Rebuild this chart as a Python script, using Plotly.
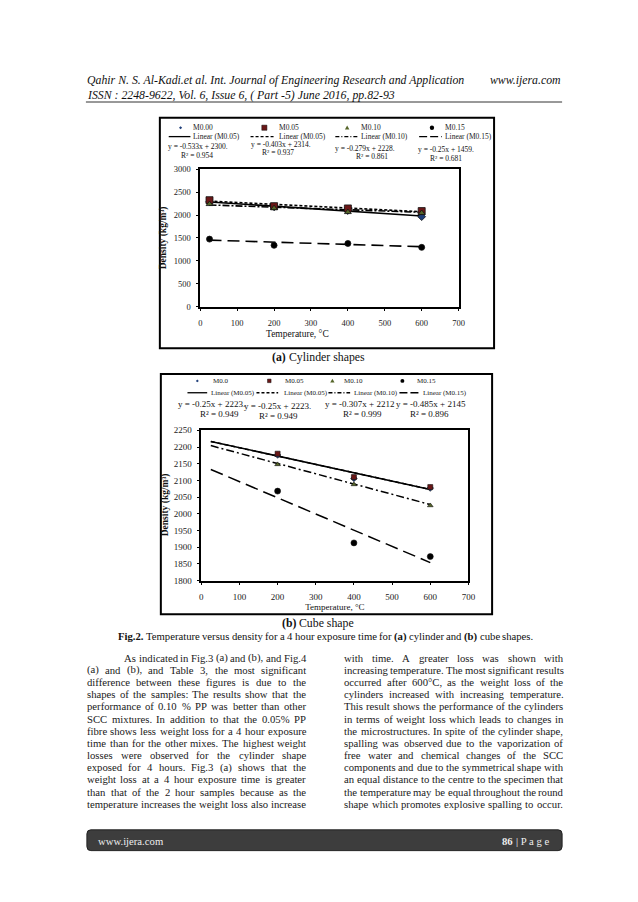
import plotly.graph_objects as go

W, H = 638, 902
SERIF = "Liberation Serif, Times New Roman, serif"


def X(px):
    return px / W


def Y(py):
    return 1 - py / H


# ---------------- data: (a) cylinder shapes ----------------
temps_a = [25, 200, 400, 600]
a_m000 = [2290, 2180, 2100, 1965]
a_m005 = [2325, 2195, 2145, 2087]
a_m010 = [2240, 2150, 2065, 2045]
a_m015 = [1475, 1340, 1380, 1295]
a_names = ["M0.00", "M0.05", "M0.10", "M0.15"]
a_trend_names = ["Linear (M0.05)", "Linear (M0.05)", "Linear (M0.10)", "Linear (M0.15)"]
a_slopes = [-0.533, -0.403, -0.279, -0.25]
a_intercepts = [2300, 2314, 2228, 1459]
a_eq_labels = ["y = -0.533x + 2300.", "y = -0.403x + 2314.", "y = -0.279x + 2228.", "y = -0.25x + 1459."]
a_r2_labels = ["R² = 0.954", "R² = 0.937", "R² = 0.861", "R² = 0.681"]
a_xticks = [0, 100, 200, 300, 400, 500, 600, 700]
a_yticks = [0, 500, 1000, 1500, 2000, 2500, 3000]

# ---------------- data: (b) cube shape ----------------
temps_b = [200, 400, 600]
b_m00 = [2176, 2106, 2077]
b_m005 = [2180, 2110, 2080]
b_m010 = [2148, 2088, 2025]
b_m015 = [2068, 1913, 1872]
b_names = ["M0.0", "M0.05", "M0.10", "M0.15"]
b_trend_names = ["Linear (M0.05)", "Linear (M0.05)", "Linear (M0.10)", "Linear (M0.15)"]
b_slopes = [-0.25, -0.25, -0.307, -0.485]
b_intercepts = [2223, 2223, 2212, 2145]
b_eq_labels = ["y = -0.25x + 2223.", "y = -0.25x + 2223.", "y = -0.307x + 2212", "y = -0.485x + 2145"]
b_r2_labels = ["R² = 0.949", "R² = 0.949", "R² = 0.999", "R² = 0.896"]
b_xticks = [0, 100, 200, 300, 400, 500, 600, 700]
b_yticks = [1800, 1850, 1900, 1950, 2000, 2050, 2100, 2150, 2200, 2250]

trend_x = [25, 600]

x_title = "Temperature, °C"
y_title = "Density (kg/m³)"

# ---------------- page text ----------------
header1 = "Qahir N. S. Al-Kadi.et al. Int. Journal of Engineering Research and Application"
header_site = "www.ijera.com"
header2 = "ISSN : 2248-9622, Vol. 6, Issue 6, ( Part -5) June 2016, pp.82-93"
caption_words = ("Fig.2. Temperature versus density for a 4 hour exposure time for "
                 "(a) cylinder and (b) cube shapes.").split(" ")
caption_bold = {"Fig.2.", "(a)", "(b)"}
left_col = [
    "As indicated in Fig.3 (a) and (b), and Fig.4",
    "(a) and (b), and Table 3, the most significant",
    "difference between these figures is due to the",
    "shapes of the samples: The results show that the",
    "performance of 0.10 % PP was better than other",
    "SCC mixtures. In addition to that the 0.05% PP",
    "fibre shows less weight loss for a 4 hour exposure",
    "time than for the other mixes. The highest weight",
    "losses were observed for the cylinder shape",
    "exposed for 4 hours. Fig.3 (a) shows that the",
    "weight loss at a 4 hour exposure time is greater",
    "than that of the 2 hour samples because as the",
    "temperature increases the weight loss also increase",
]
right_col = [
    "with time. A greater loss was shown with",
    "increasing temperature. The most significant results",
    "occurred after 600°C, as the weight loss of the",
    "cylinders increased with increasing temperature.",
    "This result shows the performance of the cylinders",
    "in terms of weight loss which leads to changes in",
    "the microstructures. In spite of the cylinder shape,",
    "spalling was observed due to the vaporization of",
    "free water and chemical changes of the SCC",
    "components and due to the symmetrical shape with",
    "an equal distance to the centre to the specimen that",
    "the temperature may be equal throughout the round",
    "shape which promotes explosive spalling to occur.",
]

# Times New Roman advance widths (1/1000 em)
TNR = {
    'a': 444, 'b': 500, 'c': 444, 'd': 500, 'e': 444, 'f': 333, 'g': 500, 'h': 500, 'i': 278,
    'j': 278, 'k': 500, 'l': 278, 'm': 778, 'n': 500, 'o': 500, 'p': 500, 'q': 500, 'r': 333,
    's': 389, 't': 278, 'u': 500, 'v': 500, 'w': 722, 'x': 500, 'y': 500, 'z': 444,
    'A': 722, 'B': 667, 'C': 667, 'D': 722, 'E': 611, 'F': 556, 'G': 722, 'H': 722, 'I': 333,
    'J': 389, 'K': 722, 'L': 611, 'M': 889, 'N': 722, 'O': 722, 'P': 556, 'Q': 722, 'R': 667,
    'S': 556, 'T': 611, 'U': 722, 'V': 722, 'W': 944, 'X': 722, 'Y': 722, 'Z': 611,
    '.': 250, ',': 250, ':': 278, ';': 278, '(': 333, ')': 333, '%': 833, '-': 333, ' ': 250,
    '°': 400, '|': 200,
}
TNR_BOLD = {'F': 611, 'i': 278, 'g': 500, '.': 250, '(': 333, ')': 333, 'a': 500, 'b': 556}


def word_width(w, fs, bold=False):
    table = TNR_BOLD if bold else TNR
    return sum(table.get(c, TNR.get(c, 500)) for c in w) * fs / 1000.0


def txt(s, x, y, size, anchor="left", color="#111", bold=False, italic=False, angle=0):
    return dict(text=s, x=X(x), y=Y(y), xref="paper", yref="paper", xanchor=anchor,
                yanchor="middle", showarrow=False, borderpad=0, textangle=angle,
                font=dict(size=size, family=SERIF, color=color,
                          weight="bold" if bold else "normal",
                          style="italic" if italic else "normal"))


annotations = []
shapes = []

# header
annotations.append(txt(header1, 77, 68, 11.8, italic=True))
annotations.append(txt(header_site, 560, 68, 11.8, anchor="right", italic=True))
annotations.append(txt(header2, 77, 83, 11.8, italic=True))
shapes.append(dict(type="line", xref="paper", yref="paper", x0=X(77), x1=X(560), y0=Y(90), y1=Y(90),
                   line=dict(color="#333", width=1)))

# chart frames
shapes.append(dict(type="rect", xref="paper", yref="paper", x0=X(152), x1=X(491), y0=Y(106), y1=Y(339),
                   line=dict(color="black", width=2)))
shapes.append(dict(type="rect", xref="paper", yref="paper", x0=X(153), x1=X(489), y0=Y(365), y1=Y(608),
                   line=dict(color="black", width=2)))

# marker styles
m_symbols = ["diamond", "square", "triangle-up", "circle"]
m_colors = ["#1F3F7A", "#6A1717", "#56662A", "#000000"]
a_sizes = [6, 7, 6, 6]
b_sizes = [5, 5, 5, 6]
a_dash = ["solid", "3px,2px", "7px,2px,2px,2px", "12px,6px"]
b_dash = ["solid", "4px,3px", "8px,3px,2px,3px", "13px,6px"]

fig = go.Figure()

# trend lines (a)
for i in range(4):
    fig.add_trace(go.Scatter(
        x=trend_x, y=[a_slopes[i] * t + a_intercepts[i] for t in trend_x], mode="lines",
        line=dict(color="black", width=1.6, dash=a_dash[i]), name=a_trend_names[i],
        showlegend=False, xaxis="x", yaxis="y", hoverinfo="skip"))
# points (a)
for i, vals in enumerate([a_m000, a_m005, a_m010, a_m015]):
    fig.add_trace(go.Scatter(
        x=temps_a, y=vals, mode="markers", name=a_names[i], showlegend=False,
        marker=dict(symbol=m_symbols[i], size=a_sizes[i], color=m_colors[i],
                    line=dict(width=0.8, color="#111")),
        xaxis="x", yaxis="y"))

# trend lines (b)
for i in range(4):
    fig.add_trace(go.Scatter(
        x=trend_x, y=[b_slopes[i] * t + b_intercepts[i] for t in trend_x], mode="lines",
        line=dict(color="black", width=1.5, dash=b_dash[i]), name=b_trend_names[i],
        showlegend=False, xaxis="x2", yaxis="y2", hoverinfo="skip"))
# points (b)
for i, vals in enumerate([b_m00, b_m005, b_m010, b_m015]):
    fig.add_trace(go.Scatter(
        x=temps_b, y=vals, mode="markers", name=b_names[i], showlegend=False,
        marker=dict(symbol=m_symbols[i], size=b_sizes[i], color=m_colors[i],
                    line=dict(width=0.6, color="#111")),
        xaxis="x2", yaxis="y2"))


def legend_marker(kind, cx, cy, r, color):
    if kind == "circle":
        return dict(type="circle", xref="paper", yref="paper", x0=X(cx - r), x1=X(cx + r),
                    y0=Y(cy + r), y1=Y(cy - r), fillcolor=color, line=dict(width=0))
    if kind == "square":
        return dict(type="rect", xref="paper", yref="paper", x0=X(cx - r), x1=X(cx + r),
                    y0=Y(cy + r), y1=Y(cy - r), fillcolor=color, line=dict(width=0.5, color="#111"))
    if kind == "triangle-up":
        pts = [(cx, cy - r), (cx + r, cy + r * 0.8), (cx - r, cy + r * 0.8)]
    else:  # diamond
        pts = [(cx, cy - r), (cx + r, cy), (cx, cy + r), (cx - r, cy)]
    path = "M " + " L ".join(f"{X(px):.5f},{Y(py):.5f}" for px, py in pts) + " Z"
    return dict(type="path", xref="paper", yref="paper", path=path, fillcolor=color, line=dict(width=0))


def build_legend(names, trend_names, eqs, r2s, mk_x, lab_x, row1_y, smp_x0, smp_x1, row2_y, txt2_x,
                 eq_x, eq_y, r2_x, r2_y, fs_leg, fs_eq, dashes, mr):
    for i in range(4):
        shapes.append(legend_marker(m_symbols[i], mk_x[i], row1_y, mr[i], m_colors[i]))
        annotations.append(txt(names[i], lab_x[i], row1_y, fs_leg, color="#222"))
        shapes.append(dict(type="line", xref="paper", yref="paper", x0=X(smp_x0[i]), x1=X(smp_x1[i]),
                           y0=Y(row2_y), y1=Y(row2_y), line=dict(color="black", width=1.3, dash=dashes[i])))
        annotations.append(txt(trend_names[i], txt2_x[i], row2_y, fs_leg, color="#222"))
        annotations.append(txt(eqs[i], eq_x[i], eq_y[i], fs_eq, anchor="center", color="#111"))
        annotations.append(txt(r2s[i], r2_x[i], r2_y[i], fs_eq, anchor="center", color="#111"))


build_legend(a_names, a_trend_names, a_eq_labels, a_r2_labels,
             mk_x=[173, 258, 342, 428], lab_x=[185, 272, 355, 440], row1_y=116,
             smp_x0=[161, 244, 330, 415], smp_x1=[183, 268, 353, 438], row2_y=125,
             txt2_x=[185, 272, 355, 440],
             eq_x=[191, 275, 360, 442], eq_y=[135, 133, 137, 138],
             r2_x=[190, 272, 367, 442], r2_y=[144, 141, 145, 147],
             fs_leg=7.5, fs_eq=7.5, dashes=["solid", "3px,2px", "4px,2px,1px,2px", "8px,3px"],
             mr=[1.6, 2.6, 2.3, 2.2])

build_legend(b_names, b_trend_names, b_eq_labels, b_r2_labels,
             mk_x=[190, 263, 327, 398], lab_x=[205, 278, 338, 412], row1_y=372,
             smp_x0=[180, 250, 323, 395], smp_x1=[200, 272, 345, 415], row2_y=384,
             txt2_x=[203, 277, 348, 418],
             eq_x=[204, 271, 355, 427], eq_y=[395, 397, 395, 395],
             r2_x=[213, 272, 358, 426], r2_y=[406, 408, 406, 406],
             fs_leg=7, fs_eq=9, dashes=["solid", "3px,2px", "4px,2px,1px,2px", "8px,3px"],
             mr=[1.5, 1.8, 2.2, 2.0])

# axis titles (placed explicitly)
annotations.append(txt(x_title, 292, 325, 9.5, anchor="center"))
annotations.append(txt(y_title, 156, 227, 9.5, anchor="center", bold=True, angle=-90))
annotations.append(txt(y_title, 158, 497, 9.5, anchor="center", bold=True, angle=-90))

# sub-captions
annotations.append(txt("(a)", 265, 348, 11.8, bold=True))
annotations.append(txt("Cylinder shapes", 282, 348, 11.8))
annotations.append(txt("(b)", 275, 617, 11.8, bold=True))
annotations.append(txt("Cube shape", 292, 617, 11.8))

# figure caption, word by word, centred
cap_fs = 10.7
cap_w = [word_width(w, cap_fs, w in caption_bold) for w in caption_words]
cap_space = 250 * cap_fs / 1000.0
cap_total = sum(cap_w) + cap_space * (len(caption_words) - 1)
cx = 319 - cap_total / 2
for w, wd in zip(caption_words, cap_w):
    annotations.append(txt(w, cx, 630, cap_fs, bold=(w in caption_bold)))
    cx += wd + cap_space


# body text, justified word by word
def justify(lines, x0, x1, y0, dy, fs, indent):
    for i, line in enumerate(lines):
        words = line.split(" ")
        start = x0 + (indent if i == 0 else 0)
        ws = [word_width(w, fs) for w in words]
        gap = (x1 - start - sum(ws)) / (len(words) - 1)
        gap = max(gap, 1.5)
        x = start
        for w, wd in zip(words, ws):
            annotations.append(txt(w, x, y0 + i * dy, fs, color="#1a1a1a"))
            x += wd + gap


justify(left_col, 77, 299, 652, 12.3, 10.7, 38)
justify(right_col, 338, 560, 652, 12.3, 10.7, 0)

# footer bar
r = 4
x0f, x1f, y0f, y1f = 78, 560, 826, 847
footer_path = (f"M {X(x0f + r)},{Y(y0f)} L {X(x1f - r)},{Y(y0f)} Q {X(x1f)},{Y(y0f)} {X(x1f)},{Y(y0f + r)} "
               f"L {X(x1f)},{Y(y1f - r)} Q {X(x1f)},{Y(y1f)} {X(x1f - r)},{Y(y1f)} "
               f"L {X(x0f + r)},{Y(y1f)} Q {X(x0f)},{Y(y1f)} {X(x0f)},{Y(y1f - r)} "
               f"L {X(x0f)},{Y(y0f + r)} Q {X(x0f)},{Y(y0f)} {X(x0f + r)},{Y(y0f)} Z")
shapes.append(dict(type="path", xref="paper", yref="paper", path=footer_path, fillcolor="#3d3d3d",
                   line=dict(color="#222", width=1)))
annotations.append(txt("www.ijera.com", 88, 837, 10.7, color="#eeeeee"))
page_tail = "| P a g e"
annotations.append(txt(page_tail, 548, 837, 10.7, anchor="right", color="#eeeeee"))
annotations.append(txt("86", 548 - word_width(page_tail, 10.7) - 2.7, 837, 10.7, anchor="right",
                       color="#eeeeee", bold=True))

tick_a = dict(family=SERIF, size=8.5, color="#222")
tick_b = dict(family=SERIF, size=9, color="#222")
axis_common = dict(showline=True, mirror=True, linecolor="black", ticks="outside", ticklen=3,
                   tickcolor="black", showgrid=False, zeroline=False, fixedrange=True)

fig.update_layout(
    width=W, height=H, autosize=False,
    margin=dict(l=0, r=0, t=0, b=0, pad=0),
    paper_bgcolor="white", plot_bgcolor="white",
    showlegend=False,
    xaxis=dict(domain=[X(193), X(455)], range=[0, 700], tickmode="array", tickvals=a_xticks,
               tickfont=tick_a, linewidth=1.5, anchor="y", ticklabelstandoff=4, **axis_common),
    yaxis=dict(domain=[Y(297), Y(158)], range=[0, 3000], tickmode="array", tickvals=a_yticks,
               tickfont=tick_a, linewidth=1.5, anchor="x", ticklabelstandoff=3, **axis_common),
    xaxis2=dict(domain=[X(194), X(465)], range=[0, 700], tickmode="array", tickvals=b_xticks,
                tickfont=tick_b, linewidth=1.5, anchor="y2", ticklabelstandoff=4,
                title=dict(text=x_title, standoff=2, font=dict(family=SERIF, size=9, color="#111")),
                **axis_common),
    yaxis2=dict(domain=[Y(574), Y(422)], range=[1800, 2250], tickmode="array", tickvals=b_yticks,
                tickfont=tick_b, linewidth=1.5, anchor="x2", ticklabelstandoff=3, **axis_common),
    annotations=annotations,
    shapes=shapes,
)

fig.write_html("out.html")
